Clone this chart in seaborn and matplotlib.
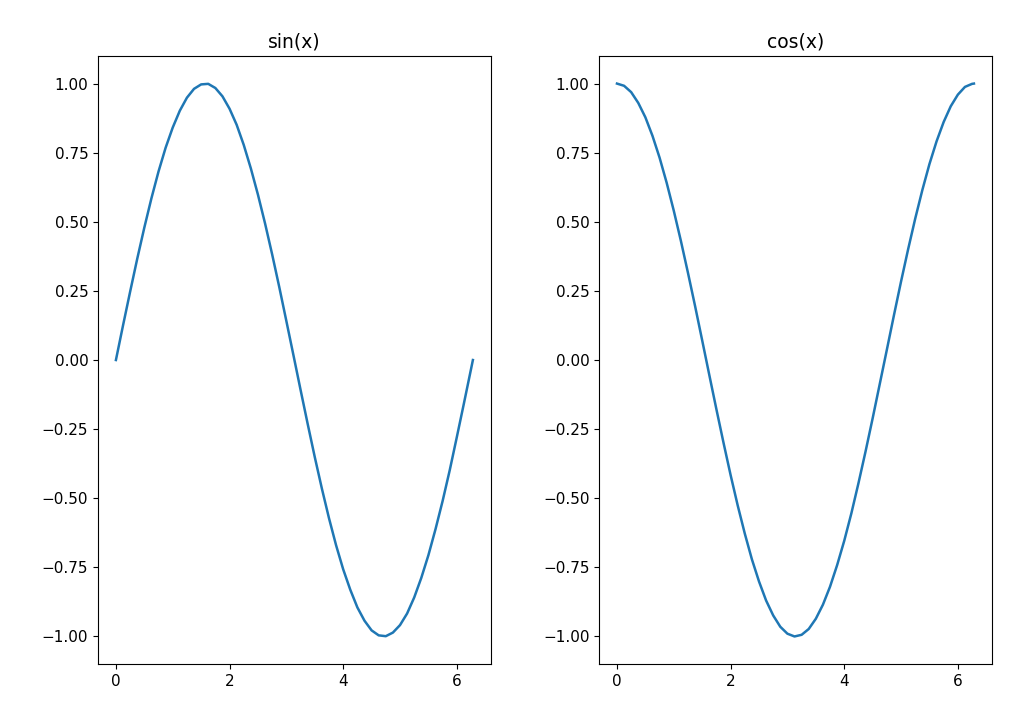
import matplotlib
matplotlib.use("Agg")
import matplotlib.pyplot as plt
import seaborn as sns

x_vals = [0, 0.125, 0.25, 0.375, 0.5, 0.625, 0.75, 0.875, 1.0, 1.125, 1.25, 1.375, 1.5,
          1.625, 1.75, 1.875, 2.0, 2.125, 2.25, 2.375, 2.5, 2.625, 2.75, 2.875, 3.0,
          3.125, 3.25, 3.375, 3.5, 3.625, 3.75, 3.875, 4.0, 4.125, 4.25, 4.375, 4.5,
          4.625, 4.75, 4.875, 5.0, 5.125, 5.25, 5.375, 5.5, 5.625, 5.75, 5.875, 6.0,
          6.125, 6.25, 6.283]
sin_y = [0.0, 0.125, 0.247, 0.366, 0.479, 0.585, 0.682, 0.768, 0.841, 0.902, 0.949, 0.981,
         0.997, 0.999, 0.984, 0.954, 0.909, 0.851, 0.778, 0.693, 0.598, 0.494, 0.382,
         0.264, 0.141, 0.017, -0.108, -0.231, -0.351, -0.465, -0.572, -0.670, -0.757,
         -0.831, -0.895, -0.943, -0.978, -0.996, -0.999, -0.986, -0.959, -0.917, -0.859,
         -0.788, -0.706, -0.612, -0.510, -0.399, -0.279, -0.157, -0.033, 0.0]
cos_y = [1.0, 0.992, 0.969, 0.930, 0.878, 0.811, 0.732, 0.641, 0.540, 0.431, 0.315, 0.195,
         0.071, -0.054, -0.178, -0.299, -0.416, -0.526, -0.628, -0.721, -0.801, -0.870,
         -0.924, -0.965, -0.990, -1.0, -0.994, -0.973, -0.936, -0.885, -0.820, -0.742,
         -0.654, -0.555, -0.446, -0.331, -0.211, -0.087, 0.037, 0.162, 0.284, 0.401,
         0.512, 0.615, 0.709, 0.791, 0.861, 0.918, 0.960, 0.988, 0.999, 1.0]

titles = ["sin(x)", "cos(x)"]

fig, axes = plt.subplots(1, 2, figsize=(10.11, 7.08), dpi=100)
fig.subplots_adjust(left=0.097, right=0.981, top=0.921, bottom=0.062, wspace=0.276)

for ax, ys, title in zip(axes, [sin_y, cos_y], titles):
    sns.lineplot(x=x_vals, y=ys, ax=ax, color="#1f77b4", linewidth=1.8)
    ax.set_title(title, fontsize=13.5)
    ax.set_ylim(-1.1, 1.1)
    ax.set_xticks([0, 2, 4, 6])
    ax.set_yticks([-1.0, -0.75, -0.5, -0.25, 0.0, 0.25, 0.5, 0.75, 1.0])
    ax.tick_params(labelsize=11)

fig.savefig("out.png", dpi=100)
